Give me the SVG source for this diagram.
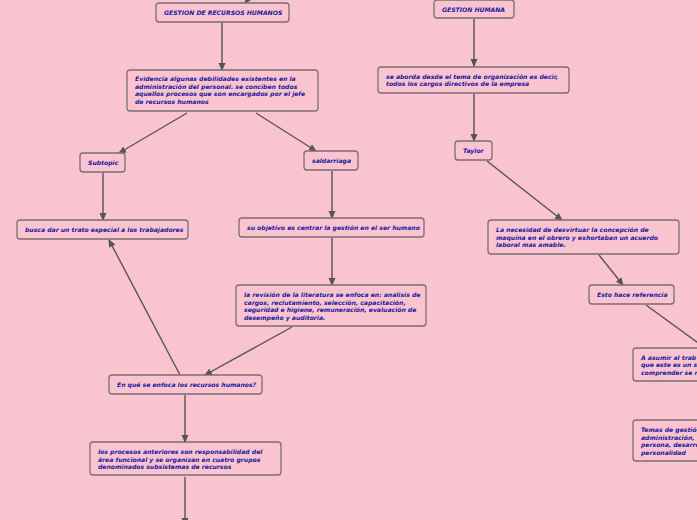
<svg xmlns="http://www.w3.org/2000/svg" width="697" height="520" viewBox="0 0 697 520">
<style>
.n rect{fill:#f9c4cf;stroke:#7a6e72;stroke-width:1.3}
.n text{font-family:"DejaVu Sans",sans-serif;font-size:6.1px;font-weight:bold;font-style:italic;fill:#1a1aa0}
.c line{stroke:#555;stroke-width:1.4;marker-end:url(#a)}
</style>
<defs><marker id="a" markerWidth="8" markerHeight="8" refX="7" refY="4" orient="auto" markerUnits="userSpaceOnUse"><path d="M0,0.5L8,4L0,7.5z" fill="#555"/></marker></defs>
<rect width="697" height="520" fill="#f9c4cf"/>
<g class="c">
<line x1="252" y1="-6" x2="245" y2="3"/>
<line x1="222" y1="22" x2="222" y2="70"/>
<line x1="187" y1="113" x2="119" y2="153"/>
<line x1="256" y1="113" x2="316" y2="151"/>
<line x1="103" y1="173" x2="103" y2="220"/>
<line x1="332" y1="171" x2="332" y2="218"/>
<line x1="332" y1="238" x2="332" y2="285"/>
<line x1="292" y1="327" x2="205" y2="375"/>
<line x1="180" y1="375" x2="109" y2="240"/>
<line x1="185" y1="395" x2="185" y2="442"/>
<line x1="185" y1="477" x2="185" y2="525"/>
<line x1="474" y1="19" x2="474" y2="66"/>
<line x1="474" y1="94" x2="474" y2="141"/>
<line x1="487" y1="161" x2="562" y2="220"/>
<line x1="599" y1="255" x2="623" y2="285"/>
<line x1="646" y1="305" x2="705" y2="348"/>
</g>
<g id="n1" class="n"><rect x="156" y="3" width="133" height="19" rx="3"/><text x="164" y="15">GESTION DE RECURSOS HUMANOS</text></g>
<g id="n2" class="n"><rect x="127" y="70" width="191" height="41" rx="3"/><text x="135" y="81">Evidencia algunas debilidades existentes en la</text><text x="135" y="89">administración del personal. se conciben todos</text><text x="135" y="96">aquellos procesos que son encargados por el jefe</text><text x="135" y="104">de recursos humanos</text></g>
<g id="n3" class="n"><rect x="80" y="153" width="45" height="19" rx="3"/><text x="88" y="165">Subtopic</text></g>
<g id="n4" class="n"><rect x="304" y="151" width="54" height="19" rx="3"/><text x="312" y="163">saldarriaga</text></g>
<g id="n5" class="n"><rect x="17" y="220" width="171" height="19" rx="3"/><text x="25" y="232">busca dar un trato especial a los trabajadores</text></g>
<g id="n6" class="n"><rect x="239" y="218" width="185" height="19" rx="3"/><text x="247" y="230">su objetivo es centrar la gestión en el ser humano</text></g>
<g id="n7" class="n"><rect x="236" y="285" width="190" height="41" rx="3"/><text x="244" y="297">la revisión de la literatura se enfoca en: analisis de</text><text x="244" y="305">cargos, reclutamiento, selección, capacitación,</text><text x="244" y="312">seguridad e higiene, remuneración, evaluación de</text><text x="244" y="320">desempeño y auditoria.</text></g>
<g id="n8" class="n"><rect x="109" y="375" width="153" height="19" rx="3"/><text x="117" y="387">En qué se enfoca los recursos humanos?</text></g>
<g id="n9" class="n"><rect x="90" y="442" width="191" height="33" rx="3"/><text x="98" y="454">los procesos anteriores son responsabilidad del</text><text x="98" y="462">área funcional y se organizan en cuatro grupos</text><text x="98" y="469">denominados subsistemas de recursos</text></g>
<g id="n10" class="n"><rect x="434" y="0" width="80" height="18" rx="3"/><text x="442" y="12">GESTION HUMANA</text></g>
<g id="n11" class="n"><rect x="378" y="67" width="191" height="26" rx="3"/><text x="386" y="79">se aborda desde el tema de organización es decir,</text><text x="386" y="86">todos los cargos directivos de la empresa</text></g>
<g id="n12" class="n"><rect x="455" y="141" width="37" height="19" rx="3"/><text x="463" y="153">Taylor</text></g>
<g id="n13" class="n"><rect x="488" y="220" width="191" height="34" rx="3"/><text x="496" y="232">La necesidad de desvirtuar la concepción de</text><text x="496" y="240">maquina en el obrero y exhortaban un acuerdo</text><text x="496" y="247">laboral mas amable.</text></g>
<g id="n14" class="n"><rect x="589" y="285" width="85" height="19" rx="3"/><text x="597" y="297">Esto hace referencia</text></g>
<g id="n15" class="n"><rect x="633" y="348" width="80" height="33" rx="3"/><text x="641" y="360">A asumir al trab</text><text x="641" y="367">que este es un s</text><text x="641" y="375">comprender se r</text></g>
<g id="n16" class="n"><rect x="633" y="420" width="80" height="41" rx="3"/><text x="641" y="432">Temas de gestió</text><text x="641" y="440">administración, </text><text x="641" y="447">persona, desarro</text><text x="641" y="455">personalidad</text></g>
</svg>
